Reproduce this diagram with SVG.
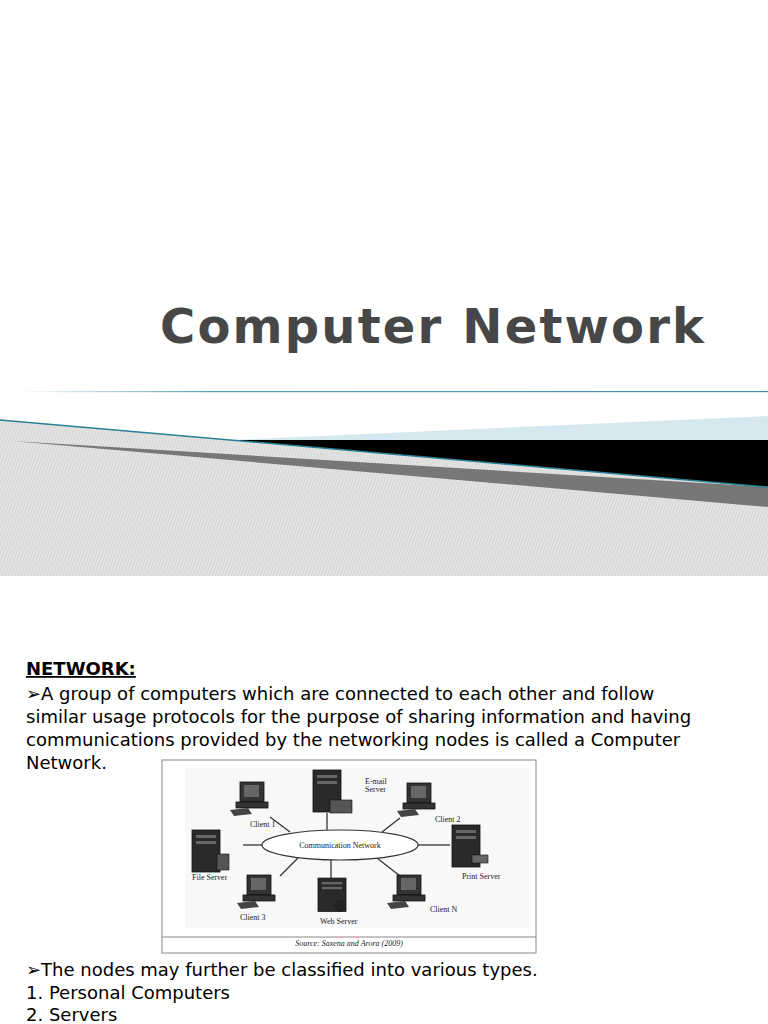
<svg xmlns="http://www.w3.org/2000/svg" width="768" height="1024" viewBox="0 0 768 1024">
<style>
.t{font-family:"DejaVu Sans",sans-serif;font-size:18px;fill:#000}
.s{font-family:"Liberation Serif",serif;font-size:8px;fill:#222}
.ln{stroke:#333;stroke-width:1.3}
.tw{fill:#2a2a2a;stroke:#111;stroke-width:0.8}
.mon{fill:#333;stroke:#111;stroke-width:0.8}
</style>
<defs>
<pattern id="h" width="3" height="6" patternUnits="userSpaceOnUse" patternTransform="rotate(20)">
<rect width="3" height="6" fill="#e4e4e4"/><line x1="0" y1="0" x2="0" y2="6" stroke="#c4c4c4" stroke-width="1"/>
</pattern>
<linearGradient id="lg" gradientUnits="userSpaceOnUse" x1="20" y1="0" x2="768" y2="0"><stop offset="0" stop-color="#ffffff"/><stop offset="0.25" stop-color="#5aa0b8"/><stop offset="1" stop-color="#3a8fb0"/></linearGradient>
<g id="pc"><rect x="10" y="0" width="24" height="20" class="mon"/><rect x="14" y="3" width="15" height="12" fill="#666"/><rect x="6" y="20" width="32" height="6" class="mon"/><polygon points="0,28 18,26 22,32 4,34" fill="#444"/></g>
<g id="srv"><rect x="0" y="0" width="28" height="42" class="tw"/><rect x="4" y="5" width="20" height="3" fill="#666"/><rect x="4" y="11" width="20" height="3" fill="#666"/></g>
</defs>
<rect width="768" height="1024" fill="#fff"/>
<g id="title"><text x="160" y="343" font-family="DejaVu Sans,sans-serif" font-weight="bold" font-size="48" fill="#474747" textLength="544">Computer Network</text></g>
<g id="banner">
<rect x="20" y="391" width="748" height="1.2" fill="url(#lg)"/>
<polygon points="0,420 230,440 768,487 768,576 0,576" fill="url(#h)"/>
<polygon points="230,440 768,416 768,440" fill="#d6e8ef"/>
<polygon points="12,441 768,487 768,507" fill="#777"/>
<polygon points="230,440 768,440 768,487" fill="#000"/>
<polyline points="0,420 230,440 768,487" fill="none" stroke="#2a7f96" stroke-width="1.5"/>
</g>
<g id="body">
<text class="t" x="26" y="675" font-weight="bold" text-decoration="underline">NETWORK: </text>
<text class="t" x="26" y="700">➢A group of computers which are connected to each other and follow</text>
<text class="t" x="26" y="723">similar usage protocols for the purpose of sharing information and having</text>
<text class="t" x="26" y="746">communications provided by the networking nodes is called a Computer</text>
<text class="t" x="26" y="769">Network.</text>
<text class="t" x="26" y="976">➢The nodes may further be classified into various types.</text>
<text class="t" x="26" y="999">1. Personal Computers</text>
<text class="t" x="26" y="1021">2. Servers</text>
</g>
<g id="figure">
<rect x="162" y="760" width="374" height="193" fill="#fff" stroke="#888" stroke-width="1"/>
<rect x="185" y="768" width="345" height="160" fill="#f8f8f8"/>
<line x1="162" y1="937" x2="536" y2="937" stroke="#888"/>
<text class="s" x="349" y="946" text-anchor="middle" font-style="italic">Source: Saxena and Arora (2009)</text>
</g>
<g id="connectors">
<line class="ln" x1="327" y1="813" x2="327" y2="830"/>
<line class="ln" x1="270" y1="817" x2="290" y2="832"/>
<line class="ln" x1="400" y1="818" x2="382" y2="832"/>
<line class="ln" x1="243" y1="845" x2="262" y2="845"/>
<line class="ln" x1="418" y1="845" x2="450" y2="845"/>
<line class="ln" x1="280" y1="876" x2="298" y2="858"/>
<line class="ln" x1="331" y1="878" x2="331" y2="860"/>
<line class="ln" x1="400" y1="876" x2="377" y2="858"/>
</g>
<g id="comm"><ellipse cx="340" cy="845" rx="78" ry="15" fill="#fff" stroke="#333" stroke-width="1.2"/><text class="s" x="340" y="848" text-anchor="middle">Communication Network</text></g>
<g id="email"><use href="#srv" x="313" y="770"/><rect x="330" y="800" width="22" height="13" fill="#555" stroke="#111" stroke-width="0.6"/><text class="s" x="365" y="784">E-mail</text><text class="s" x="365" y="792">Server</text></g>
<g id="client1"><use href="#pc" x="230" y="782"/><text class="s" x="250" y="827">Client 1</text></g>
<g id="client2"><use href="#pc" x="397" y="783"/><text class="s" x="435" y="822">Client 2</text></g>
<g id="fileserver"><use href="#srv" x="192" y="830"/><rect x="217" y="854" width="12" height="16" fill="#555" stroke="#111" stroke-width="0.6"/><text class="s" x="192" y="880">File Server</text></g>
<g id="printserver"><use href="#srv" x="452" y="825"/><rect x="472" y="855" width="16" height="8" fill="#666" stroke="#111" stroke-width="0.6"/><text class="s" x="462" y="879">Print Server</text></g>
<g id="client3"><use href="#pc" x="237" y="875"/><text class="s" x="240" y="920">Client 3</text></g>
<g id="webserver"><g transform="translate(318,878) scale(1,0.8)"><use href="#srv"/></g><circle cx="340" cy="906" r="6" fill="#222"/><text class="s" x="320" y="924">Web Server</text></g>
<g id="clientn"><use href="#pc" x="387" y="875"/><text class="s" x="430" y="912">Client N</text></g>
</svg>
